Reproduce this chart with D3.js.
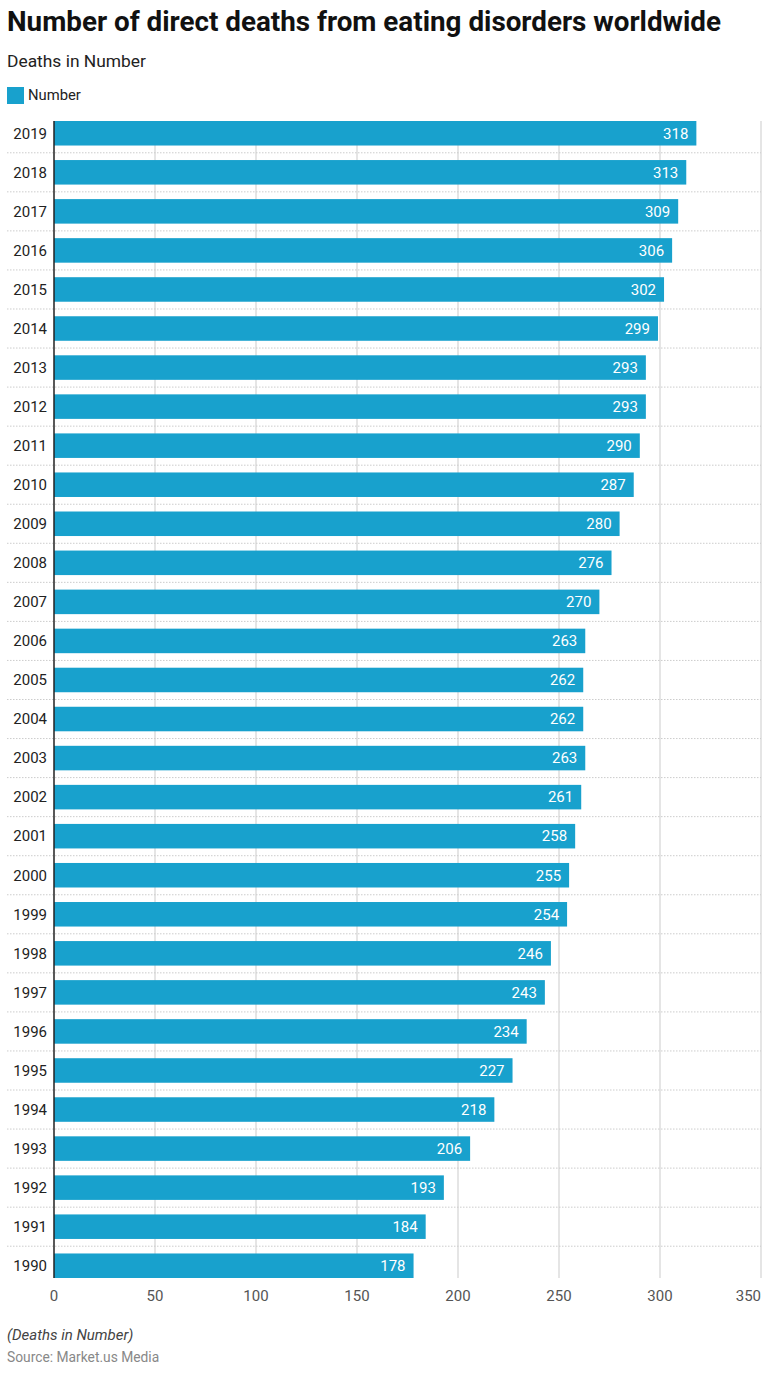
<!DOCTYPE html>
<html><head><meta charset="utf-8">
<script src="https://cdn.jsdelivr.net/npm/d3@7"></script>
<style>
body{margin:0;background:#fff;font-family:Roboto,"Noto Sans",sans-serif;}
</style></head>
<body>
<svg id="chart" width="767" height="1374"></svg>
<script>
const years = ["2019","2018","2017","2016","2015","2014","2013","2012","2011","2010","2009","2008","2007","2006","2005","2004","2003","2002","2001","2000","1999","1998","1997","1996","1995","1994","1993","1992","1991","1990"];
const deaths = [318,313,309,306,302,299,293,293,290,287,280,276,270,263,262,262,263,261,258,255,254,246,243,234,227,218,206,193,184,178];
const xTicks = [0,50,100,150,200,250,300,350];
const seriesName = "Number";

const svg = d3.select("#chart");
const color = "#18a1cd";
const x = d3.scaleLinear().domain([0,350]).range([54,761]);
const y = d3.scaleBand().domain(years).range([121,1278]).paddingInner(0.372).paddingOuter(0);

svg.append("text").attr("x",7).attr("y",31).attr("font-size",27.8).attr("font-weight","bold").attr("fill","#111").text("Number of direct deaths from eating disorders worldwide");
svg.append("text").attr("x",7).attr("y",67).attr("font-size",17.4).attr("fill","#222").text("Deaths in Number");
svg.append("rect").attr("x",7).attr("y",87).attr("width",17).attr("height",17).attr("fill",color);
svg.append("text").attr("x",28).attr("y",100).attr("font-size",14.8).attr("fill","#222").text(seriesName);

// gridlines
svg.append("g").selectAll("line").data(xTicks.slice(1)).join("line")
  .attr("x1",d=>x(d)).attr("x2",d=>x(d)).attr("y1",121).attr("y2",1278)
  .attr("stroke","#ddd").attr("stroke-width",1.5);

// separators
const step = y.step();
svg.append("g").selectAll("line").data(years.slice(1)).join("line")
  .attr("x1",7).attr("x2",761)
  .attr("y1",d=>y(d)-(step-y.bandwidth())/2).attr("y2",d=>y(d)-(step-y.bandwidth())/2)
  .attr("stroke","#ccc").attr("stroke-width",1).attr("stroke-dasharray","1.5,1.5");

// bars
svg.append("g").selectAll("rect").data(years).join("rect")
  .attr("x",x(0)).attr("y",d=>y(d)).attr("width",(d,i)=>x(deaths[i])-x(0)).attr("height",y.bandwidth())
  .attr("fill",color);

// value labels
svg.append("g").selectAll("text").data(years).join("text")
  .attr("x",(d,i)=>x(deaths[i])-8).attr("y",d=>y(d)+y.bandwidth()/2+5.3)
  .attr("text-anchor","end").attr("font-size",15).attr("fill","#fff").text((d,i)=>deaths[i]);

// year labels
svg.append("g").selectAll("text").data(years).join("text")
  .attr("x",47).attr("y",d=>y(d)+y.bandwidth()/2+5.3)
  .attr("text-anchor","end").attr("font-size",15).attr("fill","#222").text(d=>d);

// axis line
svg.append("line").attr("x1",x(0)).attr("x2",x(0)).attr("y1",121).attr("y2",1278).attr("stroke","#222").attr("stroke-width",1.5);

// x tick labels
svg.append("g").selectAll("text").data(xTicks).join("text")
  .attr("x",d=>x(d)).attr("y",1301)
  .attr("text-anchor",(d,i)=>i===xTicks.length-1?"end":"middle")
  .attr("font-size",15).attr("fill","#555").text(d=>d);

svg.append("text").attr("x",7).attr("y",1340).attr("font-size",15).attr("font-style","italic").attr("fill","#444").text("(Deaths in Number)");
svg.append("text").attr("x",7).attr("y",1362).attr("font-size",13.8).attr("fill","#888").text("Source: Market.us Media");
</script>
</body></html>
